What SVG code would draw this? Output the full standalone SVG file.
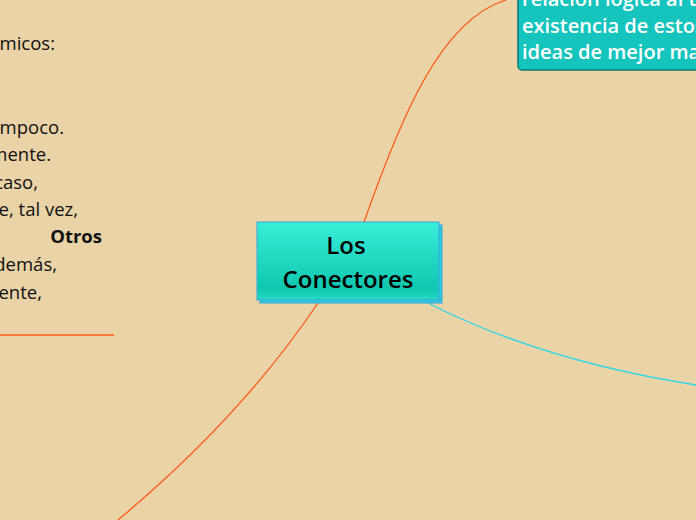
<svg xmlns="http://www.w3.org/2000/svg" width="696" height="520" viewBox="0 0 696 520">
<defs>
<style>
.t{font-family:"Open Sans","Noto Sans",sans-serif;font-size:18.5px;fill:#111;text-anchor:end}
.w{font-family:"Open Sans","Noto Sans",sans-serif;font-size:20px;font-weight:600;fill:#fff}
</style>
<linearGradient id="g" x1="0" y1="0" x2="0" y2="1">
<stop offset="0" stop-color="#3aeed8"/><stop offset="0.85" stop-color="#0fc7b0"/><stop offset="1" stop-color="#2ad8c3"/>
</linearGradient>
</defs>
<rect width="696" height="520" fill="#e9d3a7"/>
<g id="connectors" fill="none">
<path d="M364 222 C400 120 440 20 506 0" stroke="#ff5a14" stroke-width="1.3"/>
<path d="M320 300 C260 390 190 460 118 520" stroke="#ff5a14" stroke-width="1.3"/>
<path d="M428 303 C510 345 600 370 696 385" stroke="#2dd6e8" stroke-width="1.3"/>
<path d="M0 335 H114" stroke="#ff5a14" stroke-width="1.3"/>
</g>
<g id="left-text">
<text class="t" x="55" y="50">académicos:</text>
<text class="t" x="64" y="134">tampoco.</text>
<text class="t" x="51" y="161">finalmente.</text>
<text class="t" x="38" y="189">en todo caso,</text>
<text class="t" x="78" y="216">probablemente, tal vez,</text>
<text class="t" x="102" y="243" font-weight="bold">Otros</text>
<text class="t" x="57" y="271">además,</text>
<text class="t" x="42" y="299">igualmente,</text>
</g>
<g id="central">
<rect x="260" y="225" width="182" height="78" fill="#2ec8e0" stroke="#3aa8d8"/>
<rect x="257" y="222" width="182" height="78" fill="url(#g)" stroke="#3aa8d8"/>
<text x="346" y="254" text-anchor="middle" font-family="'Open Sans','Noto Sans',sans-serif" font-size="24" font-weight="600" fill="#000">Los</text>
<text x="348" y="288" text-anchor="middle" font-family="'Open Sans','Noto Sans',sans-serif" font-size="24" font-weight="600" fill="#000">Conectores</text>
</g>
<g id="topright">
<rect x="518" y="-20" width="220" height="90" rx="4" fill="#15c4bd" stroke="#0d7a70" stroke-width="1.5"/>
<text class="w" x="522" y="6">relación lógica al texto</text>
<text class="w" x="522" y="33">existencia de estos</text>
<text class="w" x="522" y="59">ideas de mejor manera</text>
</g>
</svg>
